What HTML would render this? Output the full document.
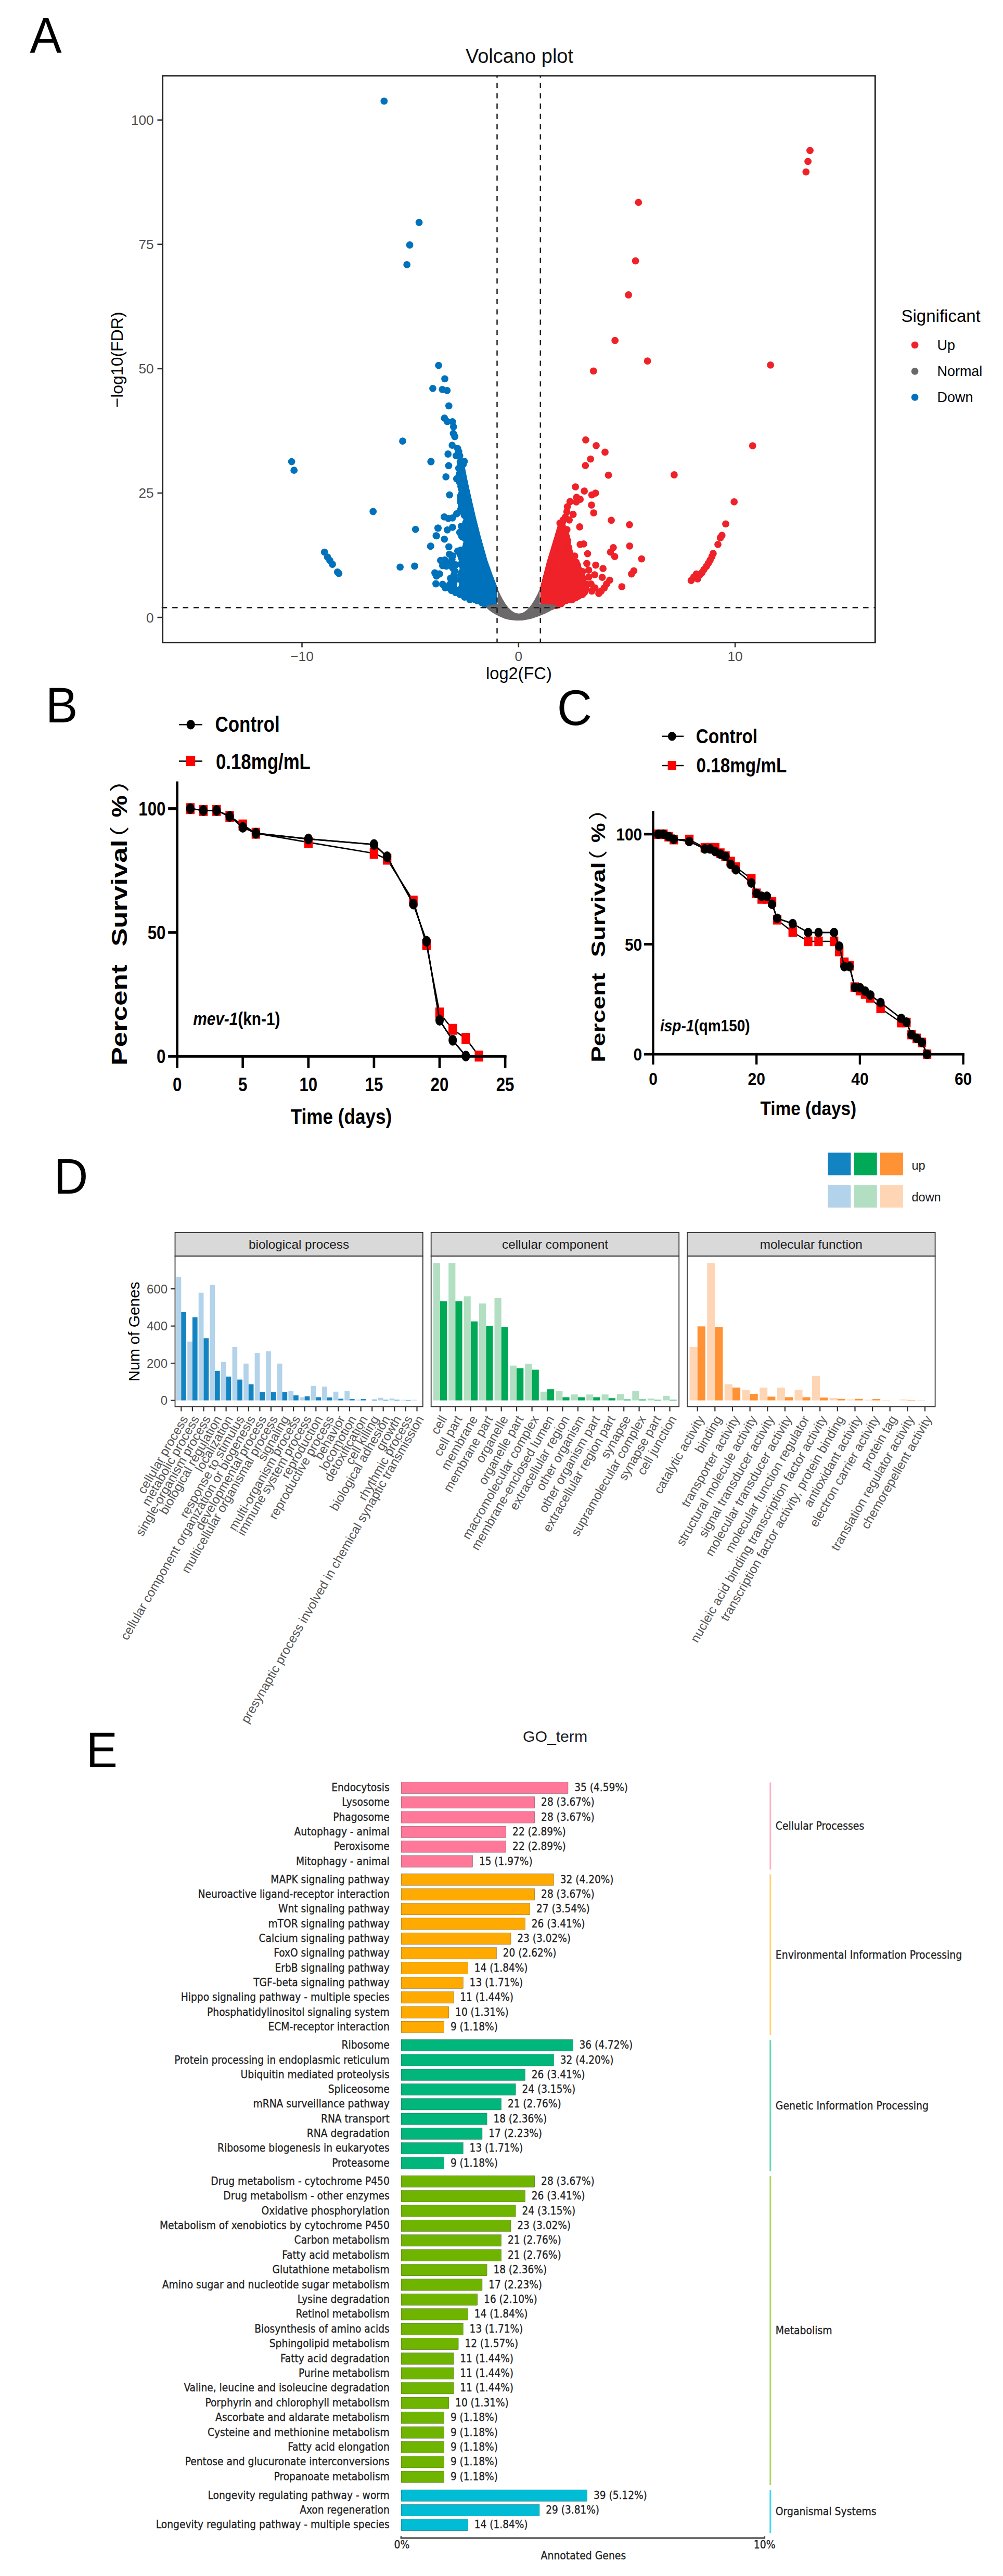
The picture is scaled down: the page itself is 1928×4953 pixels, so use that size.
<!DOCTYPE html>
<html lang="en"><head><meta charset="utf-8"><title>Figure</title>
<style>
html,body{margin:0;padding:0;background:#fff}
svg{display:block}
text{font-family:"Liberation Sans",sans-serif}
.dj text{font-family:"DejaVu Sans Condensed","DejaVu Sans",sans-serif}
</style></head><body>
<svg width="1928" height="4953" viewBox="0 0 1928 4953">
<rect width="1928" height="4953" fill="#fff"/>
<text transform="translate(57.3,100.8) scale(0.96,1)" font-size="95.93" fill="#000">A</text>
<text x="998.5" y="120.8" font-size="38" text-anchor="middle" fill="#111">Volcano plot</text>
<g fill="#0072bc">
<polygon points="891.5,888 892.7,894 893.9,900 895,906 896.2,912 897.4,918 898.6,924 899.9,930 901.2,936 902.5,942 903.9,948 905.2,954 906.6,960 907.9,966 909.3,972 910.7,978 912.1,984 913.5,990 914.9,996 916.4,1002 917.9,1008 919.4,1014 920.9,1020 922.4,1026 923.9,1032 925.6,1038 927.3,1044 929,1050 930.7,1056 932.4,1062 934.1,1068 935.8,1074 937.5,1080 939.6,1086 941.8,1092 943.9,1098 946,1104 948.3,1110 950.6,1116 952.9,1122 955.2,1128 955.5,1129 955.5,1168 940.2,1166 930.2,1161 917.2,1155 903.2,1148 892.2,1141 884.2,1134 888.2,1122 886.2,1106 890.2,1092 886.2,1075 884.2,1060 894.2,1052 896.2,1040 884.2,1024 898.2,1000 886.2,980 885.2,960 886.2,940 882.2,921 886.2,900 892.2,888"/>
<circle cx="892.4" cy="887" r="6.9"/>
<circle cx="890.4" cy="892.7" r="6.9"/>
<circle cx="887" cy="899.6" r="6.9"/>
<circle cx="884.6" cy="905.3" r="6.9"/>
<circle cx="883.5" cy="910.3" r="6.9"/>
<circle cx="882.6" cy="914.5" r="6.9"/>
<circle cx="882.7" cy="922" r="6.9"/>
<circle cx="883.1" cy="926.5" r="6.9"/>
<circle cx="885.9" cy="935" r="6.9"/>
<circle cx="887.1" cy="939.7" r="6.9"/>
<circle cx="888.1" cy="943.6" r="6.9"/>
<circle cx="887.5" cy="949.4" r="6.9"/>
<circle cx="885.1" cy="953.9" r="6.9"/>
<circle cx="885.3" cy="960.9" r="6.9"/>
<circle cx="885.2" cy="965.2" r="6.9"/>
<circle cx="886.8" cy="969.6" r="6.9"/>
<circle cx="886.8" cy="973.7" r="6.9"/>
<circle cx="885.6" cy="979.1" r="6.9"/>
<circle cx="890.4" cy="984.8" r="6.9"/>
<circle cx="892.3" cy="990.3" r="6.9"/>
<circle cx="895.8" cy="994.4" r="6.9"/>
<circle cx="899.8" cy="1000.6" r="6.9"/>
<circle cx="895.3" cy="1005" r="6.9"/>
<circle cx="893.4" cy="1010.7" r="6.9"/>
<circle cx="891.2" cy="1013.8" r="6.9"/>
<circle cx="889.1" cy="1018.1" r="6.9"/>
<circle cx="884.7" cy="1024.8" r="6.9"/>
<circle cx="886.9" cy="1028" r="6.9"/>
<circle cx="889.5" cy="1032.5" r="6.9"/>
<circle cx="894.7" cy="1036.2" r="6.9"/>
<circle cx="898" cy="1039.4" r="6.9"/>
<circle cx="896.5" cy="1046.3" r="6.9"/>
<circle cx="895.1" cy="1051.9" r="6.9"/>
<circle cx="890.9" cy="1057.3" r="6.9"/>
<circle cx="884.8" cy="1060.5" r="6.9"/>
<circle cx="884.2" cy="1065.6" r="6.9"/>
<circle cx="886.7" cy="1071.5" r="6.9"/>
<circle cx="887.9" cy="1074.4" r="6.9"/>
<circle cx="887.9" cy="1081.2" r="6.9"/>
<circle cx="888.1" cy="1086.2" r="6.9"/>
<circle cx="889.9" cy="1090.9" r="6.9"/>
<circle cx="887.6" cy="1099.8" r="6.9"/>
<circle cx="885.8" cy="1105.2" r="6.9"/>
<circle cx="887.2" cy="1112.4" r="6.9"/>
<circle cx="887" cy="1116.5" r="6.9"/>
<circle cx="889" cy="1123.2" r="6.9"/>
<circle cx="887.9" cy="1129.1" r="6.9"/>
<circle cx="884.2" cy="1133.7" r="6.9"/>
<circle cx="888.5" cy="1138.7" r="6.9"/>
<circle cx="894.3" cy="1140" r="6.9"/>
<circle cx="897.4" cy="1143.7" r="6.9"/>
<circle cx="903.1" cy="1148" r="6.9"/>
<circle cx="908.8" cy="1149.6" r="6.9"/>
<circle cx="911.7" cy="1152.4" r="6.9"/>
<circle cx="917.5" cy="1155.2" r="6.9"/>
<circle cx="925.8" cy="1158.6" r="6.9"/>
<circle cx="930.9" cy="1161.4" r="6.9"/>
<circle cx="936.4" cy="1162.2" r="6.9"/>
<circle cx="884.6" cy="888" r="6.9"/>
<circle cx="885.4" cy="892" r="6.9"/>
<circle cx="886.2" cy="896" r="6.9"/>
<circle cx="887" cy="900" r="6.9"/>
<circle cx="887.7" cy="904" r="6.9"/>
<circle cx="888.5" cy="908" r="6.9"/>
<circle cx="889.3" cy="912" r="6.9"/>
<circle cx="890.1" cy="916" r="6.9"/>
<circle cx="890.9" cy="920" r="6.9"/>
<circle cx="891.7" cy="924" r="6.9"/>
<circle cx="892.5" cy="928" r="6.9"/>
<circle cx="893.4" cy="932" r="6.9"/>
<circle cx="894.3" cy="936" r="6.9"/>
<circle cx="895.2" cy="940" r="6.9"/>
<circle cx="896.1" cy="944" r="6.9"/>
<circle cx="897" cy="948" r="6.9"/>
<circle cx="897.9" cy="952" r="6.9"/>
<circle cx="898.8" cy="956" r="6.9"/>
<circle cx="899.7" cy="960" r="6.9"/>
<circle cx="900.6" cy="964" r="6.9"/>
<circle cx="901.5" cy="968" r="6.9"/>
<circle cx="902.4" cy="972" r="6.9"/>
<circle cx="903.4" cy="976" r="6.9"/>
<circle cx="904.3" cy="980" r="6.9"/>
<circle cx="905.2" cy="984" r="6.9"/>
<circle cx="906.1" cy="988" r="6.9"/>
<circle cx="907.1" cy="992" r="6.9"/>
<circle cx="908" cy="996" r="6.9"/>
<circle cx="909" cy="1000" r="6.9"/>
<circle cx="910" cy="1004" r="6.9"/>
<circle cx="911" cy="1008" r="6.9"/>
<circle cx="912" cy="1012" r="6.9"/>
<circle cx="913" cy="1016" r="6.9"/>
<circle cx="914" cy="1020" r="6.9"/>
<circle cx="915" cy="1024" r="6.9"/>
<circle cx="916" cy="1028" r="6.9"/>
<circle cx="917" cy="1032" r="6.9"/>
<circle cx="918.2" cy="1036" r="6.9"/>
<circle cx="919.3" cy="1040" r="6.9"/>
<circle cx="920.4" cy="1044" r="6.9"/>
<circle cx="921.5" cy="1048" r="6.9"/>
<circle cx="922.7" cy="1052" r="6.9"/>
<circle cx="923.8" cy="1056" r="6.9"/>
<circle cx="924.9" cy="1060" r="6.9"/>
<circle cx="926" cy="1064" r="6.9"/>
<circle cx="927.2" cy="1068" r="6.9"/>
<circle cx="928.3" cy="1072" r="6.9"/>
<circle cx="929.4" cy="1076" r="6.9"/>
<circle cx="930.6" cy="1080" r="6.9"/>
<circle cx="932" cy="1084" r="6.9"/>
<circle cx="933.4" cy="1088" r="6.9"/>
<circle cx="934.9" cy="1092" r="6.9"/>
<circle cx="936.3" cy="1096" r="6.9"/>
<circle cx="937.7" cy="1100" r="6.9"/>
<circle cx="939.1" cy="1104" r="6.9"/>
<circle cx="940.6" cy="1108" r="6.9"/>
<circle cx="942.2" cy="1112" r="6.9"/>
<circle cx="943.7" cy="1116" r="6.9"/>
<circle cx="945.3" cy="1120" r="6.9"/>
<circle cx="946.8" cy="1124" r="6.9"/>
<circle cx="948.3" cy="1128" r="6.9"/>
<circle cx="738.3" cy="194.4" r="6.9"/>
<circle cx="805.6" cy="427.7" r="6.9"/>
<circle cx="787.6" cy="471" r="6.9"/>
<circle cx="782.2" cy="508.9" r="6.9"/>
<circle cx="843.1" cy="702.7" r="6.9"/>
<circle cx="855" cy="728.3" r="6.9"/>
<circle cx="831.9" cy="746.8" r="6.9"/>
<circle cx="850.2" cy="748.8" r="6.9"/>
<circle cx="859.4" cy="750.8" r="6.9"/>
<circle cx="862.8" cy="780.3" r="6.9"/>
<circle cx="854.4" cy="804" r="6.9"/>
<circle cx="859.8" cy="810.6" r="6.9"/>
<circle cx="869.8" cy="811" r="6.9"/>
<circle cx="871.8" cy="820.6" r="6.9"/>
<circle cx="871.4" cy="833.5" r="6.9"/>
<circle cx="874.2" cy="839.5" r="6.9"/>
<circle cx="869.2" cy="856.1" r="6.9"/>
<circle cx="879.8" cy="862.5" r="6.9"/>
<circle cx="881.8" cy="868.4" r="6.9"/>
<circle cx="876.8" cy="876.4" r="6.9"/>
<circle cx="883.7" cy="876.4" r="6.9"/>
<circle cx="861.2" cy="873" r="6.9"/>
<circle cx="828.3" cy="887.8" r="6.9"/>
<circle cx="862.4" cy="895.4" r="6.9"/>
<circle cx="886.1" cy="892.4" r="6.9"/>
<circle cx="881.8" cy="900.3" r="6.9"/>
<circle cx="857.2" cy="916.9" r="6.9"/>
<circle cx="877.8" cy="920.7" r="6.9"/>
<circle cx="864.2" cy="951.6" r="6.9"/>
<circle cx="853.8" cy="993.8" r="6.9"/>
<circle cx="861.8" cy="996.8" r="6.9"/>
<circle cx="869.8" cy="995.8" r="6.9"/>
<circle cx="877.8" cy="987.9" r="6.9"/>
<circle cx="841.9" cy="1015.4" r="6.9"/>
<circle cx="859.8" cy="1018.8" r="6.9"/>
<circle cx="869.8" cy="1013.8" r="6.9"/>
<circle cx="886.7" cy="1011.8" r="6.9"/>
<circle cx="838.3" cy="1030.1" r="6.9"/>
<circle cx="854.2" cy="1036.7" r="6.9"/>
<circle cx="827.9" cy="1050.1" r="6.9"/>
<circle cx="862.8" cy="1051.3" r="6.9"/>
<circle cx="863.8" cy="1065.6" r="6.9"/>
<circle cx="846.9" cy="1077.6" r="6.9"/>
<circle cx="854.8" cy="1076.6" r="6.9"/>
<circle cx="850.8" cy="1087.6" r="6.9"/>
<circle cx="857.8" cy="1088.6" r="6.9"/>
<circle cx="835.9" cy="1101.5" r="6.9"/>
<circle cx="844.9" cy="1103.5" r="6.9"/>
<circle cx="838.9" cy="1107.5" r="6.9"/>
<circle cx="837.9" cy="1122.5" r="6.9"/>
<circle cx="850.8" cy="1123.5" r="6.9"/>
<circle cx="855.8" cy="1130.4" r="6.9"/>
<circle cx="864.8" cy="1123.5" r="6.9"/>
<circle cx="871.8" cy="1122.5" r="6.9"/>
<circle cx="867.8" cy="1135.4" r="6.9"/>
<circle cx="875.8" cy="1139.4" r="6.9"/>
<circle cx="872.8" cy="1105.5" r="6.9"/>
<circle cx="869.8" cy="1091.5" r="6.9"/>
<circle cx="868.8" cy="1075.6" r="6.9"/>
<circle cx="879.8" cy="1059.6" r="6.9"/>
<circle cx="885.7" cy="1057.6" r="6.9"/>
<circle cx="883.7" cy="1023.7" r="6.9"/>
<circle cx="887.7" cy="1031.7" r="6.9"/>
<circle cx="560.6" cy="887.6" r="6.9"/>
<circle cx="565.2" cy="904.2" r="6.9"/>
<circle cx="774" cy="848.2" r="6.9"/>
<circle cx="717.2" cy="983.5" r="6.9"/>
<circle cx="798.7" cy="1017.8" r="6.9"/>
<circle cx="623.7" cy="1061.6" r="6.9"/>
<circle cx="629.6" cy="1071.1" r="6.9"/>
<circle cx="634" cy="1077.7" r="6.9"/>
<circle cx="639" cy="1085" r="6.9"/>
<circle cx="648.7" cy="1099.8" r="6.9"/>
<circle cx="651.3" cy="1102.6" r="6.9"/>
<circle cx="769.1" cy="1090.4" r="6.9"/>
<circle cx="797" cy="1088.5" r="6.9"/>
<circle cx="828.5" cy="887.4" r="6.9"/>
<circle cx="842" cy="1015.5" r="6.9"/>
<circle cx="839" cy="1030.4" r="6.9"/>
<circle cx="827.6" cy="1050.4" r="6.9"/>
<circle cx="866" cy="1082" r="6.9"/>
<circle cx="874" cy="1098" r="6.9"/>
<circle cx="866" cy="1112" r="6.9"/>
<circle cx="876" cy="1114" r="6.9"/>
<circle cx="872" cy="1128" r="6.9"/>
<circle cx="880" cy="1137" r="6.9"/>
<circle cx="862" cy="1130" r="6.9"/>
<circle cx="870" cy="1069" r="6.9"/>
<circle cx="876" cy="1086" r="6.9"/>
<circle cx="884" cy="1143" r="6.9"/>
<circle cx="893" cy="1148" r="6.9"/>
<circle cx="903" cy="1153" r="6.9"/>
<circle cx="868" cy="1133" r="6.9"/>
</g>
<g fill="#ee2228">
<polygon points="1075.4,1000 1073.6,1006 1071.8,1012 1070,1018 1068.2,1024 1066.4,1030 1064.6,1036 1062.8,1042 1061,1048 1059.2,1054 1057.4,1060 1055.6,1066 1053.7,1072 1051.9,1078 1050.3,1084 1048.8,1090 1047.2,1096 1045.6,1102 1044,1108 1042.5,1114 1040.9,1120 1039.3,1126 1038.6,1129 1038.6,1169 1055.8,1168 1068.8,1163.5 1089.8,1155.5 1113.8,1146 1124.8,1139 1121.8,1130 1127.8,1122 1111.8,1116 1117.8,1106 1105.8,1100 1113.8,1092 1105.8,1084 1097.8,1069 1093.8,1054 1091.8,1039 1085.8,1018 1075.8,1005"/>
<circle cx="1076.3" cy="1005.8" r="6.9"/>
<circle cx="1079.6" cy="1010.2" r="6.9"/>
<circle cx="1081.4" cy="1013.4" r="6.9"/>
<circle cx="1083.9" cy="1018.4" r="6.9"/>
<circle cx="1085.3" cy="1022" r="6.9"/>
<circle cx="1087.2" cy="1027.5" r="6.9"/>
<circle cx="1089.1" cy="1032.4" r="6.9"/>
<circle cx="1089.6" cy="1038" r="6.9"/>
<circle cx="1090.6" cy="1043.6" r="6.9"/>
<circle cx="1091" cy="1050.1" r="6.9"/>
<circle cx="1093.4" cy="1052.9" r="6.9"/>
<circle cx="1093.7" cy="1058.5" r="6.9"/>
<circle cx="1095.4" cy="1062.9" r="6.9"/>
<circle cx="1098.1" cy="1070.5" r="6.9"/>
<circle cx="1099.7" cy="1074" r="6.9"/>
<circle cx="1101.2" cy="1077.8" r="6.9"/>
<circle cx="1104.6" cy="1083.3" r="6.9"/>
<circle cx="1110.1" cy="1087" r="6.9"/>
<circle cx="1111.7" cy="1093.4" r="6.9"/>
<circle cx="1109.2" cy="1094.9" r="6.9"/>
<circle cx="1105.2" cy="1098.6" r="6.9"/>
<circle cx="1111.2" cy="1104.4" r="6.9"/>
<circle cx="1118.2" cy="1106.6" r="6.9"/>
<circle cx="1113.4" cy="1110.6" r="6.9"/>
<circle cx="1110.1" cy="1116.8" r="6.9"/>
<circle cx="1116.5" cy="1118.8" r="6.9"/>
<circle cx="1121.3" cy="1119.2" r="6.9"/>
<circle cx="1128" cy="1123.5" r="6.9"/>
<circle cx="1125.2" cy="1126.9" r="6.9"/>
<circle cx="1122.1" cy="1130.7" r="6.9"/>
<circle cx="1123.3" cy="1139.1" r="6.9"/>
<circle cx="1118.2" cy="1141.1" r="6.9"/>
<circle cx="1111.7" cy="1145.3" r="6.9"/>
<circle cx="1107.6" cy="1148.5" r="6.9"/>
<circle cx="1104.9" cy="1149.6" r="6.9"/>
<circle cx="1100" cy="1153.2" r="6.9"/>
<circle cx="1095.3" cy="1153.2" r="6.9"/>
<circle cx="1088.3" cy="1154.7" r="6.9"/>
<circle cx="1082.9" cy="1156.6" r="6.9"/>
<circle cx="1079" cy="1160.7" r="6.9"/>
<circle cx="1074.4" cy="1161.4" r="6.9"/>
<circle cx="1068.6" cy="1164.4" r="6.9"/>
<circle cx="1060.4" cy="1166.2" r="6.9"/>
<circle cx="1082.3" cy="1000" r="6.9"/>
<circle cx="1081.1" cy="1004" r="6.9"/>
<circle cx="1079.9" cy="1008" r="6.9"/>
<circle cx="1078.7" cy="1012" r="6.9"/>
<circle cx="1077.5" cy="1016" r="6.9"/>
<circle cx="1076.3" cy="1020" r="6.9"/>
<circle cx="1075.1" cy="1024" r="6.9"/>
<circle cx="1073.9" cy="1028" r="6.9"/>
<circle cx="1072.7" cy="1032" r="6.9"/>
<circle cx="1071.5" cy="1036" r="6.9"/>
<circle cx="1070.3" cy="1040" r="6.9"/>
<circle cx="1069.1" cy="1044" r="6.9"/>
<circle cx="1067.9" cy="1048" r="6.9"/>
<circle cx="1066.7" cy="1052" r="6.9"/>
<circle cx="1065.5" cy="1056" r="6.9"/>
<circle cx="1064.3" cy="1060" r="6.9"/>
<circle cx="1063.1" cy="1064" r="6.9"/>
<circle cx="1061.9" cy="1068" r="6.9"/>
<circle cx="1060.6" cy="1072" r="6.9"/>
<circle cx="1059.4" cy="1076" r="6.9"/>
<circle cx="1058.3" cy="1080" r="6.9"/>
<circle cx="1057.2" cy="1084" r="6.9"/>
<circle cx="1056.2" cy="1088" r="6.9"/>
<circle cx="1055.1" cy="1092" r="6.9"/>
<circle cx="1054.1" cy="1096" r="6.9"/>
<circle cx="1053" cy="1100" r="6.9"/>
<circle cx="1052" cy="1104" r="6.9"/>
<circle cx="1050.9" cy="1108" r="6.9"/>
<circle cx="1049.9" cy="1112" r="6.9"/>
<circle cx="1048.8" cy="1116" r="6.9"/>
<circle cx="1047.8" cy="1120" r="6.9"/>
<circle cx="1046.7" cy="1124" r="6.9"/>
<circle cx="1045.7" cy="1128" r="6.9"/>
<circle cx="1125.9" cy="845.8" r="6.9"/>
<circle cx="1146" cy="856.8" r="6.9"/>
<circle cx="1163" cy="869.4" r="6.9"/>
<circle cx="1135.2" cy="882.6" r="6.9"/>
<circle cx="1125.3" cy="895.1" r="6.9"/>
<circle cx="1169.6" cy="913.7" r="6.9"/>
<circle cx="1295.9" cy="913" r="6.9"/>
<circle cx="1106.2" cy="936.1" r="6.9"/>
<circle cx="1123.2" cy="944.2" r="6.9"/>
<circle cx="1144.8" cy="948.1" r="6.9"/>
<circle cx="1137.6" cy="951.7" r="6.9"/>
<circle cx="1108.3" cy="956.1" r="6.9"/>
<circle cx="1115.2" cy="960" r="6.9"/>
<circle cx="1107.7" cy="965.1" r="6.9"/>
<circle cx="1095.7" cy="964.5" r="6.9"/>
<circle cx="1090.6" cy="974.4" r="6.9"/>
<circle cx="1137" cy="971.1" r="6.9"/>
<circle cx="1141.2" cy="986.1" r="6.9"/>
<circle cx="1101.7" cy="989" r="6.9"/>
<circle cx="1089.7" cy="984" r="6.9"/>
<circle cx="1086.7" cy="994.4" r="6.9"/>
<circle cx="1094.2" cy="999.8" r="6.9"/>
<circle cx="1175" cy="1000.4" r="6.9"/>
<circle cx="1210" cy="1008.8" r="6.9"/>
<circle cx="1114.3" cy="1013" r="6.9"/>
<circle cx="1080.8" cy="1014.8" r="6.9"/>
<circle cx="1089.7" cy="1018.4" r="6.9"/>
<circle cx="1077.8" cy="1027.3" r="6.9"/>
<circle cx="1091.2" cy="1039.3" r="6.9"/>
<circle cx="1115.2" cy="1046.8" r="6.9"/>
<circle cx="1122" cy="1045.9" r="6.9"/>
<circle cx="1178.9" cy="1052.8" r="6.9"/>
<circle cx="1210.3" cy="1049.8" r="6.9"/>
<circle cx="1173.5" cy="1061.7" r="6.9"/>
<circle cx="1181.6" cy="1070.1" r="6.9"/>
<circle cx="1129.5" cy="1064.7" r="6.9"/>
<circle cx="1233.3" cy="1074.6" r="6.9"/>
<circle cx="1128" cy="1083.3" r="6.9"/>
<circle cx="1145.1" cy="1086.6" r="6.9"/>
<circle cx="1159.1" cy="1093.1" r="6.9"/>
<circle cx="1218.4" cy="1097.6" r="6.9"/>
<circle cx="1213.9" cy="1103.6" r="6.9"/>
<circle cx="1143" cy="1105.1" r="6.9"/>
<circle cx="1157.6" cy="1110.2" r="6.9"/>
<circle cx="1172" cy="1115.6" r="6.9"/>
<circle cx="1131.6" cy="1096.1" r="6.9"/>
<circle cx="1131.6" cy="1109.6" r="6.9"/>
<circle cx="1119.6" cy="1112.6" r="6.9"/>
<circle cx="1166" cy="1123" r="6.9"/>
<circle cx="1136.1" cy="1123" r="6.9"/>
<circle cx="1143.6" cy="1130.5" r="6.9"/>
<circle cx="1161.5" cy="1130.5" r="6.9"/>
<circle cx="1155.5" cy="1136.5" r="6.9"/>
<circle cx="1151" cy="1141" r="6.9"/>
<circle cx="1195.3" cy="1128.1" r="6.9"/>
<circle cx="1137.6" cy="1136.5" r="6.9"/>
<circle cx="1125.6" cy="1132" r="6.9"/>
<circle cx="1119.6" cy="1143" r="6.9"/>
<circle cx="1112.2" cy="1146" r="6.9"/>
<circle cx="1101.7" cy="1099" r="6.9"/>
<circle cx="1104.7" cy="1069.2" r="6.9"/>
<circle cx="1107.7" cy="1081.2" r="6.9"/>
<circle cx="1119.6" cy="1099" r="6.9"/>
<circle cx="1182.2" cy="654.6" r="6.9"/>
<circle cx="1244.6" cy="694.2" r="6.9"/>
<circle cx="1140.8" cy="713.4" r="6.9"/>
<circle cx="1481.1" cy="701.9" r="6.9"/>
<circle cx="1446.7" cy="857.1" r="6.9"/>
<circle cx="1411.2" cy="964.9" r="6.9"/>
<circle cx="1395" cy="1007.4" r="6.9"/>
<circle cx="1387.7" cy="1029.4" r="6.9"/>
<circle cx="1384.6" cy="1034.2" r="6.9"/>
<circle cx="1380" cy="1046.8" r="6.9"/>
<circle cx="1370.9" cy="1064.1" r="6.9"/>
<circle cx="1368.5" cy="1070" r="6.9"/>
<circle cx="1364.9" cy="1077.2" r="6.9"/>
<circle cx="1361.4" cy="1083.2" r="6.9"/>
<circle cx="1357.8" cy="1089.2" r="6.9"/>
<circle cx="1353" cy="1095.2" r="6.9"/>
<circle cx="1349.4" cy="1101.2" r="6.9"/>
<circle cx="1344.6" cy="1106" r="6.9"/>
<circle cx="1338.6" cy="1103.6" r="6.9"/>
<circle cx="1341" cy="1113.1" r="6.9"/>
<circle cx="1333.8" cy="1109.5" r="6.9"/>
<circle cx="1328.6" cy="1116.2" r="6.9"/>
<circle cx="1557" cy="289.3" r="6.9"/>
<circle cx="1553.1" cy="310.4" r="6.9"/>
<circle cx="1549.3" cy="330.6" r="6.9"/>
<circle cx="1227.3" cy="389.2" r="6.9"/>
<circle cx="1221.6" cy="501.7" r="6.9"/>
<circle cx="1208.1" cy="567" r="6.9"/>
</g>
<path fill="#6b6969" d="M956.8,1132.8 Q997.2,1226.6 1037.6,1132.8 L1037.6,1161.5 L1064,1162.5 Q1071,1164 1068,1168.5 Q1050,1181 1022,1189.5 Q996,1197 970,1189.5 Q946,1180 936.5,1170 Q933,1164 940,1163.5 L956.8,1161.5 Z"/>
<g stroke="#222" stroke-width="2.5" fill="none">
<path stroke-dasharray="9.9 9.884" stroke-dashoffset="6.04" d="M955.5,145.7V1235"/><path stroke-dasharray="9.9 9.884" stroke-dashoffset="6.04" d="M1038.8,145.7V1235"/><path stroke-dasharray="10.5 9.93" d="M310.7,1168.3H1682"/>
</g>
<rect x="312.6" y="145.7" width="1369.7" height="1089.7" fill="none" stroke="#222" stroke-width="2.9"/>
<g stroke="#333" stroke-width="2.6">
<path d="M302.5,1187.1H311.5"/>
<path d="M302.5,948H311.5"/>
<path d="M302.5,708.9H311.5"/>
<path d="M302.5,469.8H311.5"/>
<path d="M302.5,230.7H311.5"/>
<path d="M580.5,1236V1244.5"/>
<path d="M996.8,1236V1244.5"/>
<path d="M1413.1,1236V1244.5"/>
</g>
<g font-size="26.2" fill="#4d4d4d">
<text x="295.6" y="1196.5" text-anchor="end">0</text>
<text x="295.6" y="957.4" text-anchor="end">25</text>
<text x="295.6" y="718.3" text-anchor="end">50</text>
<text x="295.6" y="479.2" text-anchor="end">75</text>
<text x="295.6" y="240.1" text-anchor="end">100</text>
<text x="580.5" y="1270.7" text-anchor="middle">−10</text>
<text x="996.8" y="1270.7" text-anchor="middle">0</text>
<text x="1413.1" y="1270.7" text-anchor="middle">10</text>
</g>
<text x="997.4" y="1305.5" font-size="32.6" text-anchor="middle" fill="#000">log2(FC)</text>
<text transform="translate(236.3,691.5) rotate(-90)" font-size="32" text-anchor="middle" fill="#000">−log10(FDR)</text>
<text x="1732.5" y="619.3" font-size="33" fill="#000">Significant</text>
<circle cx="1758.6" cy="663.4" r="6.9" fill="#ee2228"/>
<text x="1801.6" y="672.5" font-size="26.9" fill="#000">Up</text>
<circle cx="1758.6" cy="713.8" r="6.9" fill="#6b6969"/>
<text x="1801.6" y="722.9" font-size="26.9" fill="#000">Normal</text>
<circle cx="1758.6" cy="763.8" r="6.9" fill="#0072bc"/>
<text x="1801.6" y="772.9" font-size="26.9" fill="#000">Down</text>
<text transform="translate(87.87,1389.3) scale(0.96,1)" font-size="96.37" fill="#000">B</text>
<polyline fill="none" stroke="#000" stroke-width="2.6" stroke-linejoin="round" points="365.8,1554.8 391,1558.3 416.3,1558.3 441.5,1569.7 466.7,1586.2 491.9,1602.1 592.8,1619.6 718.9,1640.7 744.1,1652 794.6,1732.5 819.8,1816.2 845,1947.8 870.2,1979.2 895.4,1996.6 920.7,2030.5"/>
<polyline fill="none" stroke="#000" stroke-width="2.6" stroke-linejoin="round" points="365.8,1554.8 391,1558.3 416.3,1558.3 441.5,1569.7 466.7,1590.7 491.9,1602.1 592.8,1613.1 718.9,1623.7 744.1,1647.3 794.6,1738.3 819.8,1809.7 845,1961.7 870.2,2000.1 895.4,2030.5"/>
<g fill="#f00">
<rect x="357.6" y="1544.3" width="16.4" height="21"/>
<rect x="382.8" y="1547.8" width="16.4" height="21"/>
<rect x="408.1" y="1547.8" width="16.4" height="21"/>
<rect x="433.3" y="1559.2" width="16.4" height="21"/>
<rect x="458.5" y="1575.7" width="16.4" height="21"/>
<rect x="483.7" y="1591.6" width="16.4" height="21"/>
<rect x="584.6" y="1609.1" width="16.4" height="21"/>
<rect x="710.7" y="1630.2" width="16.4" height="21"/>
<rect x="735.9" y="1641.5" width="16.4" height="21"/>
<rect x="786.4" y="1722" width="16.4" height="21"/>
<rect x="811.6" y="1805.7" width="16.4" height="21"/>
<rect x="836.8" y="1937.3" width="16.4" height="21"/>
<rect x="862" y="1968.7" width="16.4" height="21"/>
<rect x="887.2" y="1986.1" width="16.4" height="21"/>
<rect x="912.5" y="2020" width="16.4" height="21"/>
</g>
<polyline fill="none" stroke="#000" stroke-width="2.6" stroke-linejoin="round" points="365.8,1554.8 391,1558.3 416.3,1558.3 441.5,1569.7 466.7,1590.7 491.9,1602.1 592.8,1613.1 718.9,1623.7 744.1,1647.3 794.6,1738.3 819.8,1809.7 845,1961.7 870.2,2000.1 895.4,2030.5"/>
<g fill="#000">
<ellipse cx="365.8" cy="1554.8" rx="8.1" ry="10.3"/>
<ellipse cx="391" cy="1558.3" rx="8.1" ry="10.3"/>
<ellipse cx="416.3" cy="1558.3" rx="8.1" ry="10.3"/>
<ellipse cx="441.5" cy="1569.7" rx="8.1" ry="10.3"/>
<ellipse cx="466.7" cy="1590.7" rx="8.1" ry="10.3"/>
<ellipse cx="491.9" cy="1602.1" rx="8.1" ry="10.3"/>
<ellipse cx="592.8" cy="1613.1" rx="8.1" ry="10.3"/>
<ellipse cx="718.9" cy="1623.7" rx="8.1" ry="10.3"/>
<ellipse cx="744.1" cy="1647.3" rx="8.1" ry="10.3"/>
<ellipse cx="794.6" cy="1738.3" rx="8.1" ry="10.3"/>
<ellipse cx="819.8" cy="1809.7" rx="8.1" ry="10.3"/>
<ellipse cx="845" cy="1961.7" rx="8.1" ry="10.3"/>
<ellipse cx="870.2" cy="2000.1" rx="8.1" ry="10.3"/>
<ellipse cx="895.4" cy="2030.5" rx="8.1" ry="10.3"/>
</g>
<g stroke="#000" fill="none">
<path stroke-width="4.7" d="M340.6,1502.4V2053"/>
<path stroke-width="5.4" d="M323.2,2031H973.6"/>
<path stroke-width="5.4" d="M323.2,1792.9H340.6"/>
<path stroke-width="5.4" d="M323.2,1554.8H340.6"/>
<path stroke-width="4.7" d="M466.7,2031V2053"/>
<path stroke-width="4.7" d="M592.8,2031V2053"/>
<path stroke-width="4.7" d="M718.9,2031V2053"/>
<path stroke-width="4.7" d="M845,2031V2053"/>
<path stroke-width="4.7" d="M971.1,2031V2053"/>
</g>
<text x="318.5" y="2044.4" font-size="37" text-anchor="end" textLength="17.4" lengthAdjust="spacingAndGlyphs" font-weight="bold">0</text>
<text x="318.5" y="1806.3" font-size="37" text-anchor="end" textLength="34.8" lengthAdjust="spacingAndGlyphs" font-weight="bold">50</text>
<text x="318.5" y="1568.2" font-size="37" text-anchor="end" textLength="52.2" lengthAdjust="spacingAndGlyphs" font-weight="bold">100</text>
<text x="340.6" y="2097.6" font-size="37" text-anchor="middle" textLength="17.4" lengthAdjust="spacingAndGlyphs" font-weight="bold">0</text>
<text x="466.7" y="2097.6" font-size="37" text-anchor="middle" textLength="17.4" lengthAdjust="spacingAndGlyphs" font-weight="bold">5</text>
<text x="592.8" y="2097.6" font-size="37" text-anchor="middle" textLength="34.8" lengthAdjust="spacingAndGlyphs" font-weight="bold">10</text>
<text x="718.9" y="2097.6" font-size="37" text-anchor="middle" textLength="34.8" lengthAdjust="spacingAndGlyphs" font-weight="bold">15</text>
<text x="845" y="2097.6" font-size="37" text-anchor="middle" textLength="34.8" lengthAdjust="spacingAndGlyphs" font-weight="bold">20</text>
<text x="971.1" y="2097.6" font-size="37" text-anchor="middle" textLength="34.8" lengthAdjust="spacingAndGlyphs" font-weight="bold">25</text>
<path stroke="#000" stroke-width="2.6" d="M344,1393.2H389"/><ellipse cx="366.6" cy="1393.2" rx="8.1" ry="9.2"/>
<path stroke="#000" stroke-width="2.6" d="M344,1463.5H389"/><rect x="358" y="1454" width="17.2" height="19" fill="#f00"/>
<text x="413.6" y="1407.2" font-size="43" textLength="124" lengthAdjust="spacingAndGlyphs" font-weight="bold">Control</text>
<text x="414.9" y="1478.5" font-size="43" textLength="182" lengthAdjust="spacingAndGlyphs" font-weight="bold">0.18mg/mL</text>
<text x="558.8" y="2160.8" font-size="40" textLength="194.4" lengthAdjust="spacingAndGlyphs" font-weight="bold">Time (days)</text>
<text x="371.2" y="1970.7" font-size="34.4" font-weight="bold" textLength="167.3" lengthAdjust="spacingAndGlyphs"><tspan font-style="italic">mev-1</tspan>(kn-1)</text>
<text transform="translate(243.6,2048.5) rotate(-90)" font-size="42" textLength="194" lengthAdjust="spacingAndGlyphs" font-weight="bold">Percent</text>
<text transform="translate(243.6,1819.8) rotate(-90)" font-size="42" textLength="205.1" lengthAdjust="spacingAndGlyphs" font-weight="bold">Survival</text>
<text transform="translate(243.6,1571.4) rotate(-90)" font-size="42" textLength="42.2" lengthAdjust="spacingAndGlyphs" font-weight="bold">%</text>
<text transform="translate(242.8,1637.7) rotate(-90) scale(1.3,1)" font-size="37.7" style="font-family:'Liberation Sans','Noto Sans CJK SC',sans-serif">（</text>
<text transform="translate(242.8,1523.2) rotate(-90) scale(1.3,1)" font-size="37.7" style="font-family:'Liberation Sans','Noto Sans CJK SC',sans-serif">）</text>
<text transform="translate(1070.81,1394.04) scale(0.96,1)" font-size="97.05" fill="#000">C</text>
<polyline fill="none" stroke="#000" stroke-width="2.4" stroke-linejoin="round" points="1265.4,1604 1275.4,1604 1285.3,1608.7 1295.2,1614.3 1325,1614.1 1354.8,1630 1364.8,1630 1374.7,1630 1384.7,1640.4 1394.6,1646 1404.5,1656.5 1414.5,1667.3 1444.3,1689.7 1454.2,1717.6 1464.1,1728.5 1474.1,1728.5 1484,1734.3 1493.9,1768.4 1523.7,1792.2 1553.5,1810 1573.4,1810 1603.2,1810 1613.2,1829.5 1623.1,1850.3 1633,1856.8 1643,1898 1652.9,1904.7 1662.8,1911.4 1672.8,1918.6 1692.6,1938.7 1732.4,1966.2 1742.3,1966 1752.2,1989.2 1762.2,1996.6 1772.1,2004.3 1782.1,2027"/>
<polyline fill="none" stroke="#000" stroke-width="2.4" stroke-linejoin="round" points="1265.4,1603.9 1275.4,1603.9 1285.3,1608.5 1295.2,1613.5 1325,1617.9 1354.8,1632.2 1364.8,1632.2 1374.7,1637.2 1384.7,1642.2 1394.6,1646.8 1404.5,1662 1414.5,1672.3 1444.3,1697.8 1454.2,1717.8 1464.1,1723.2 1474.1,1723.2 1484,1738.7 1493.9,1765.6 1523.7,1776 1553.5,1793 1573.4,1793 1603.2,1793 1613.2,1819.2 1623.1,1858.6 1633,1858.6 1643,1898.5 1652.9,1899 1662.8,1905.5 1672.8,1913.1 1692.6,1927.7 1732.4,1958.1 1742.3,1965.3 1752.2,1989.2 1762.2,1996.4 1772.1,2004.3 1782.1,2027"/>
<g fill="#f00">
<rect x="1257.3" y="1594.8" width="16.3" height="18.4"/>
<rect x="1267.2" y="1594.8" width="16.3" height="18.4"/>
<rect x="1277.2" y="1599.5" width="16.3" height="18.4"/>
<rect x="1287.1" y="1605.1" width="16.3" height="18.4"/>
<rect x="1316.9" y="1604.9" width="16.3" height="18.4"/>
<rect x="1346.7" y="1620.8" width="16.3" height="18.4"/>
<rect x="1356.6" y="1620.8" width="16.3" height="18.4"/>
<rect x="1366.6" y="1620.8" width="16.3" height="18.4"/>
<rect x="1376.5" y="1631.2" width="16.3" height="18.4"/>
<rect x="1386.4" y="1636.8" width="16.3" height="18.4"/>
<rect x="1396.4" y="1647.3" width="16.3" height="18.4"/>
<rect x="1406.3" y="1658.1" width="16.3" height="18.4"/>
<rect x="1436.1" y="1680.5" width="16.3" height="18.4"/>
<rect x="1446" y="1708.4" width="16.3" height="18.4"/>
<rect x="1456" y="1719.3" width="16.3" height="18.4"/>
<rect x="1465.9" y="1719.3" width="16.3" height="18.4"/>
<rect x="1475.9" y="1725.1" width="16.3" height="18.4"/>
<rect x="1485.8" y="1759.2" width="16.3" height="18.4"/>
<rect x="1515.6" y="1783" width="16.3" height="18.4"/>
<rect x="1545.4" y="1800.8" width="16.3" height="18.4"/>
<rect x="1565.3" y="1800.8" width="16.3" height="18.4"/>
<rect x="1595.1" y="1800.8" width="16.3" height="18.4"/>
<rect x="1605" y="1820.3" width="16.3" height="18.4"/>
<rect x="1614.9" y="1841.1" width="16.3" height="18.4"/>
<rect x="1624.9" y="1847.6" width="16.3" height="18.4"/>
<rect x="1634.8" y="1888.8" width="16.3" height="18.4"/>
<rect x="1644.8" y="1895.5" width="16.3" height="18.4"/>
<rect x="1654.7" y="1902.2" width="16.3" height="18.4"/>
<rect x="1664.6" y="1909.4" width="16.3" height="18.4"/>
<rect x="1684.5" y="1929.5" width="16.3" height="18.4"/>
<rect x="1724.2" y="1957" width="16.3" height="18.4"/>
<rect x="1734.2" y="1956.8" width="16.3" height="18.4"/>
<rect x="1744.1" y="1980" width="16.3" height="18.4"/>
<rect x="1754" y="1987.4" width="16.3" height="18.4"/>
<rect x="1764" y="1995.1" width="16.3" height="18.4"/>
<rect x="1773.9" y="2017.8" width="16.3" height="18.4"/>
</g>
<polyline fill="none" stroke="#000" stroke-width="2.4" stroke-linejoin="round" points="1265.4,1603.9 1275.4,1603.9 1285.3,1608.5 1295.2,1613.5 1325,1617.9 1354.8,1632.2 1364.8,1632.2 1374.7,1637.2 1384.7,1642.2 1394.6,1646.8 1404.5,1662 1414.5,1672.3 1444.3,1697.8 1454.2,1717.8 1464.1,1723.2 1474.1,1723.2 1484,1738.7 1493.9,1765.6 1523.7,1776 1553.5,1793 1573.4,1793 1603.2,1793 1613.2,1819.2 1623.1,1858.6 1633,1858.6 1643,1898.5 1652.9,1899 1662.8,1905.5 1672.8,1913.1 1692.6,1927.7 1732.4,1958.1 1742.3,1965.3 1752.2,1989.2 1762.2,1996.4 1772.1,2004.3 1782.1,2027"/>
<g fill="#000">
<ellipse cx="1265.4" cy="1603.9" rx="8" ry="9.2"/>
<ellipse cx="1275.4" cy="1603.9" rx="8" ry="9.2"/>
<ellipse cx="1285.3" cy="1608.5" rx="8" ry="9.2"/>
<ellipse cx="1295.2" cy="1613.5" rx="8" ry="9.2"/>
<ellipse cx="1325" cy="1617.9" rx="8" ry="9.2"/>
<ellipse cx="1354.8" cy="1632.2" rx="8" ry="9.2"/>
<ellipse cx="1364.8" cy="1632.2" rx="8" ry="9.2"/>
<ellipse cx="1374.7" cy="1637.2" rx="8" ry="9.2"/>
<ellipse cx="1384.7" cy="1642.2" rx="8" ry="9.2"/>
<ellipse cx="1394.6" cy="1646.8" rx="8" ry="9.2"/>
<ellipse cx="1404.5" cy="1662" rx="8" ry="9.2"/>
<ellipse cx="1414.5" cy="1672.3" rx="8" ry="9.2"/>
<ellipse cx="1444.3" cy="1697.8" rx="8" ry="9.2"/>
<ellipse cx="1454.2" cy="1717.8" rx="8" ry="9.2"/>
<ellipse cx="1464.1" cy="1723.2" rx="8" ry="9.2"/>
<ellipse cx="1474.1" cy="1723.2" rx="8" ry="9.2"/>
<ellipse cx="1484" cy="1738.7" rx="8" ry="9.2"/>
<ellipse cx="1493.9" cy="1765.6" rx="8" ry="9.2"/>
<ellipse cx="1523.7" cy="1776" rx="8" ry="9.2"/>
<ellipse cx="1553.5" cy="1793" rx="8" ry="9.2"/>
<ellipse cx="1573.4" cy="1793" rx="8" ry="9.2"/>
<ellipse cx="1603.2" cy="1793" rx="8" ry="9.2"/>
<ellipse cx="1613.2" cy="1819.2" rx="8" ry="9.2"/>
<ellipse cx="1623.1" cy="1858.6" rx="8" ry="9.2"/>
<ellipse cx="1633" cy="1858.6" rx="8" ry="9.2"/>
<ellipse cx="1643" cy="1898.5" rx="8" ry="9.2"/>
<ellipse cx="1652.9" cy="1899" rx="8" ry="9.2"/>
<ellipse cx="1662.8" cy="1905.5" rx="8" ry="9.2"/>
<ellipse cx="1672.8" cy="1913.1" rx="8" ry="9.2"/>
<ellipse cx="1692.6" cy="1927.7" rx="8" ry="9.2"/>
<ellipse cx="1732.4" cy="1958.1" rx="8" ry="9.2"/>
<ellipse cx="1742.3" cy="1965.3" rx="8" ry="9.2"/>
<ellipse cx="1752.2" cy="1989.2" rx="8" ry="9.2"/>
<ellipse cx="1762.2" cy="1996.4" rx="8" ry="9.2"/>
<ellipse cx="1772.1" cy="2004.3" rx="8" ry="9.2"/>
<ellipse cx="1782.1" cy="2027" rx="8" ry="9.2"/>
</g>
<g stroke="#000" fill="none">
<path stroke-width="4.3" d="M1255.5,1559.1V2046.7"/>
<path stroke-width="4.9" d="M1237.9,2027.1H1853.8"/>
<path stroke-width="4.9" d="M1237.9,1815.5H1255.5"/>
<path stroke-width="4.9" d="M1237.9,1603.9H1255.5"/>
<path stroke-width="4.3" d="M1454.2,2027.1V2046.7"/>
<path stroke-width="4.3" d="M1652.9,2027.1V2046.7"/>
<path stroke-width="4.3" d="M1851.6,2027.1V2046.7"/>
</g>
<text x="1234.3" y="2039.3" font-size="33.5" text-anchor="end" textLength="16.7" lengthAdjust="spacingAndGlyphs" font-weight="bold">0</text>
<text x="1234.3" y="1827.7" font-size="33.5" text-anchor="end" textLength="33.4" lengthAdjust="spacingAndGlyphs" font-weight="bold">50</text>
<text x="1234.3" y="1616.1" font-size="33.5" text-anchor="end" textLength="50.1" lengthAdjust="spacingAndGlyphs" font-weight="bold">100</text>
<text x="1255.5" y="2086.4" font-size="33.5" text-anchor="middle" textLength="16.7" lengthAdjust="spacingAndGlyphs" font-weight="bold">0</text>
<text x="1454.2" y="2086.4" font-size="33.5" text-anchor="middle" textLength="33.4" lengthAdjust="spacingAndGlyphs" font-weight="bold">20</text>
<text x="1652.9" y="2086.4" font-size="33.5" text-anchor="middle" textLength="33.4" lengthAdjust="spacingAndGlyphs" font-weight="bold">40</text>
<text x="1851.6" y="2086.4" font-size="33.5" text-anchor="middle" textLength="33.4" lengthAdjust="spacingAndGlyphs" font-weight="bold">60</text>
<path stroke="#000" stroke-width="2.4" d="M1272,1415.7H1314.2"/><ellipse cx="1291.8" cy="1415.7" rx="8" ry="8.6"/>
<path stroke="#000" stroke-width="2.4" d="M1272,1472H1314.2"/><rect x="1283.6" y="1463" width="16.4" height="18" fill="#f00"/>
<text x="1337.8" y="1428.6" font-size="38.5" textLength="118.3" lengthAdjust="spacingAndGlyphs" font-weight="bold">Control</text>
<text x="1338.4" y="1485.4" font-size="38.5" textLength="174" lengthAdjust="spacingAndGlyphs" font-weight="bold">0.18mg/mL</text>
<text x="1461.6" y="2143.5" font-size="36.7" textLength="184.6" lengthAdjust="spacingAndGlyphs" font-weight="bold">Time (days)</text>
<text x="1269" y="1982.6" font-size="31.5" font-weight="bold" textLength="172.6" lengthAdjust="spacingAndGlyphs"><tspan font-style="italic">isp-1</tspan>(qm150)</text>
<text transform="translate(1163,2042.8) rotate(-90)" font-size="37.2" textLength="172.1" lengthAdjust="spacingAndGlyphs" font-weight="bold">Percent</text>
<text transform="translate(1163,1840.2) rotate(-90)" font-size="37.2" textLength="182.7" lengthAdjust="spacingAndGlyphs" font-weight="bold">Survival</text>
<text transform="translate(1163,1620.1) rotate(-90)" font-size="37.6" textLength="37.6" lengthAdjust="spacingAndGlyphs" font-weight="bold">%</text>
<text transform="translate(1162.7,1679.4) rotate(-90) scale(1.24,1)" font-size="35.9" style="font-family:'Liberation Sans','Noto Sans CJK SC',sans-serif">（</text>
<text transform="translate(1162.7,1576.9) rotate(-90) scale(1.24,1)" font-size="35.9" style="font-family:'Liberation Sans','Noto Sans CJK SC',sans-serif">）</text>
<text transform="translate(103.52,2295) scale(0.95,1)" font-size="95.93" fill="#000">D</text>
<rect x="1591.4" y="2216.3" width="44" height="43.4" fill="#1483c1"/>
<rect x="1591.4" y="2278.6" width="44" height="43.2" fill="#b3d3ea"/>
<rect x="1641.7" y="2216.3" width="44" height="43.4" fill="#00a956"/>
<rect x="1641.7" y="2278.6" width="44" height="43.2" fill="#b2dfc2"/>
<rect x="1691.9" y="2216.3" width="44" height="43.4" fill="#ff9234"/>
<rect x="1691.9" y="2278.6" width="44" height="43.2" fill="#ffd6b5"/>
<text x="1752.5" y="2248.5" font-size="23.5" fill="#1a1a1a">up</text>
<text x="1752.5" y="2309.8" font-size="23.5" fill="#1a1a1a">down</text>
<g fill="#b3d3ea">
<rect x="338.6" y="2454.9" width="9.7" height="237.7"/>
<rect x="360.2" y="2579.6" width="9.7" height="113"/>
<rect x="381.7" y="2485.6" width="9.7" height="207"/>
<rect x="403.3" y="2470.6" width="9.7" height="222"/>
<rect x="424.9" y="2618.6" width="9.7" height="74"/>
<rect x="446.5" y="2590" width="9.7" height="102.6"/>
<rect x="468.1" y="2621.8" width="9.7" height="70.8"/>
<rect x="489.6" y="2601.4" width="9.7" height="91.2"/>
<rect x="511.2" y="2598.2" width="9.7" height="94.4"/>
<rect x="532.8" y="2621.8" width="9.7" height="70.8"/>
<rect x="554.4" y="2674" width="9.7" height="18.6"/>
<rect x="576" y="2686.5" width="9.7" height="6.1"/>
<rect x="597.5" y="2664.7" width="9.7" height="27.9"/>
<rect x="619.1" y="2666.1" width="9.7" height="26.5"/>
<rect x="640.7" y="2675.8" width="9.7" height="16.8"/>
<rect x="662.3" y="2674" width="9.7" height="18.6"/>
<rect x="683.9" y="2691.2" width="9.7" height="1.4"/>
<rect x="727" y="2687.6" width="9.7" height="5"/>
<rect x="748.6" y="2689" width="9.7" height="3.6"/>
<rect x="770.2" y="2691.5" width="9.7" height="1.1"/>
<rect x="791.8" y="2691.5" width="9.7" height="1.1"/>
</g><g fill="#1483c1">
<rect x="348.3" y="2522.8" width="9.7" height="169.8"/>
<rect x="369.9" y="2532.8" width="9.7" height="159.8"/>
<rect x="391.5" y="2573.2" width="9.7" height="119.4"/>
<rect x="413" y="2635.8" width="9.7" height="56.8"/>
<rect x="434.6" y="2646.8" width="9.7" height="45.8"/>
<rect x="456.2" y="2652.6" width="9.7" height="40"/>
<rect x="477.8" y="2661.5" width="9.7" height="31.1"/>
<rect x="499.4" y="2676.2" width="9.7" height="16.4"/>
<rect x="520.9" y="2676.5" width="9.7" height="16.1"/>
<rect x="542.5" y="2676.5" width="9.7" height="16.1"/>
<rect x="564.1" y="2682.9" width="9.7" height="9.7"/>
<rect x="585.7" y="2684.7" width="9.7" height="7.9"/>
<rect x="607.3" y="2686.5" width="9.7" height="6.1"/>
<rect x="628.8" y="2686.9" width="9.7" height="5.7"/>
<rect x="650.4" y="2689.4" width="9.7" height="3.2"/>
<rect x="672" y="2690.1" width="9.7" height="2.5"/>
<rect x="693.6" y="2690.1" width="9.7" height="2.5"/>
<rect x="715.2" y="2691.2" width="9.7" height="1.4"/>
<rect x="736.7" y="2691.5" width="9.7" height="1.1"/>
<rect x="758.3" y="2691.5" width="9.7" height="1.1"/>
<rect x="779.9" y="2691.9" width="9.7" height="0.7"/>
</g>
<rect x="336.5" y="2369.8" width="476.3" height="45.4" fill="#d9d9d9" stroke="#333" stroke-width="1.8"/>
<rect x="336.5" y="2415.2" width="476.3" height="289.4" fill="none" stroke="#333" stroke-width="1.8"/>
<text x="574.6" y="2401.2" font-size="24.3" text-anchor="middle" fill="#1a1a1a">biological process</text>
<path d="M348.3,2704.6V2713.4M369.9,2704.6V2713.4M391.5,2704.6V2713.4M413,2704.6V2713.4M434.6,2704.6V2713.4M456.2,2704.6V2713.4M477.8,2704.6V2713.4M499.4,2704.6V2713.4M520.9,2704.6V2713.4M542.5,2704.6V2713.4M564.1,2704.6V2713.4M585.7,2704.6V2713.4M607.3,2704.6V2713.4M628.8,2704.6V2713.4M650.4,2704.6V2713.4M672,2704.6V2713.4M693.6,2704.6V2713.4M715.2,2704.6V2713.4M736.7,2704.6V2713.4M758.3,2704.6V2713.4M779.9,2704.6V2713.4M801.5,2704.6V2713.4" stroke="#333" stroke-width="2.2" fill="none"/>
<g font-size="24.25" fill="#555" text-anchor="end">
<text transform="translate(362.3,2728) rotate(-60)">cellular process</text>
<text transform="translate(383.9,2728) rotate(-60)">metabolic process</text>
<text transform="translate(405.5,2728) rotate(-60)">single-organism process</text>
<text transform="translate(427,2728) rotate(-60)">biological regulation</text>
<text transform="translate(448.6,2728) rotate(-60)">localization</text>
<text transform="translate(470.2,2728) rotate(-60)">response to stimulus</text>
<text transform="translate(491.8,2728) rotate(-60)">cellular component organization or biogenesis</text>
<text transform="translate(513.4,2728) rotate(-60)">developmental process</text>
<text transform="translate(534.9,2728) rotate(-60)">multicellular organismal process</text>
<text transform="translate(556.5,2728) rotate(-60)">signaling</text>
<text transform="translate(578.1,2728) rotate(-60)">multi-organism process</text>
<text transform="translate(599.7,2728) rotate(-60)">immune system process</text>
<text transform="translate(621.3,2728) rotate(-60)">reproduction</text>
<text transform="translate(642.8,2728) rotate(-60)">reproductive process</text>
<text transform="translate(664.4,2728) rotate(-60)">behavior</text>
<text transform="translate(686,2728) rotate(-60)">locomotion</text>
<text transform="translate(707.6,2728) rotate(-60)">detoxification</text>
<text transform="translate(729.2,2728) rotate(-60)">cell killing</text>
<text transform="translate(750.7,2728) rotate(-60)">biological adhesion</text>
<text transform="translate(772.3,2728) rotate(-60)">growth</text>
<text transform="translate(793.9,2728) rotate(-60)">rhythmic process</text>
<text transform="translate(815.5,2728) rotate(-60)">presynaptic process involved in chemical synaptic transmission</text>
</g>
<g fill="#b2dfc2">
<rect x="832.8" y="2428.4" width="13.2" height="264.2"/>
<rect x="862.2" y="2428.4" width="13.2" height="264.2"/>
<rect x="891.6" y="2492.4" width="13.2" height="200.2"/>
<rect x="921" y="2506.3" width="13.2" height="186.3"/>
<rect x="950.5" y="2496" width="13.2" height="196.6"/>
<rect x="979.9" y="2625.7" width="13.2" height="66.9"/>
<rect x="1009.3" y="2622.2" width="13.2" height="70.4"/>
<rect x="1038.8" y="2675.8" width="13.2" height="16.8"/>
<rect x="1068.2" y="2674.7" width="13.2" height="17.9"/>
<rect x="1097.6" y="2681.2" width="13.2" height="11.4"/>
<rect x="1127.1" y="2681.2" width="13.2" height="11.4"/>
<rect x="1156.5" y="2681.2" width="13.2" height="11.4"/>
<rect x="1185.9" y="2680.4" width="13.2" height="12.2"/>
<rect x="1215.3" y="2674" width="13.2" height="18.6"/>
<rect x="1244.8" y="2689" width="13.2" height="3.6"/>
<rect x="1274.2" y="2684" width="13.2" height="8.6"/>
</g><g fill="#00a956">
<rect x="846" y="2502.1" width="13.2" height="190.5"/>
<rect x="875.4" y="2502.1" width="13.2" height="190.5"/>
<rect x="904.9" y="2540.7" width="13.2" height="151.9"/>
<rect x="934.3" y="2549.6" width="13.2" height="143"/>
<rect x="963.7" y="2551.4" width="13.2" height="141.2"/>
<rect x="993.1" y="2630.8" width="13.2" height="61.8"/>
<rect x="1022.6" y="2633.6" width="13.2" height="59"/>
<rect x="1052" y="2671.2" width="13.2" height="21.4"/>
<rect x="1081.4" y="2686.5" width="13.2" height="6.1"/>
<rect x="1110.9" y="2686.5" width="13.2" height="6.1"/>
<rect x="1140.3" y="2686.5" width="13.2" height="6.1"/>
<rect x="1169.7" y="2688.3" width="13.2" height="4.3"/>
<rect x="1199.2" y="2690.8" width="13.2" height="1.8"/>
<rect x="1228.6" y="2690.8" width="13.2" height="1.8"/>
<rect x="1258" y="2691.5" width="13.2" height="1.1"/>
<rect x="1287.5" y="2691.5" width="13.2" height="1.1"/>
</g>
<rect x="828.7" y="2369.8" width="476.5" height="45.4" fill="#d9d9d9" stroke="#333" stroke-width="1.8"/>
<rect x="828.7" y="2415.2" width="476.5" height="289.4" fill="none" stroke="#333" stroke-width="1.8"/>
<text x="1067" y="2401.2" font-size="24.3" text-anchor="middle" fill="#1a1a1a">cellular component</text>
<path d="M846,2704.6V2713.4M875.4,2704.6V2713.4M904.9,2704.6V2713.4M934.3,2704.6V2713.4M963.7,2704.6V2713.4M993.1,2704.6V2713.4M1022.6,2704.6V2713.4M1052,2704.6V2713.4M1081.4,2704.6V2713.4M1110.9,2704.6V2713.4M1140.3,2704.6V2713.4M1169.7,2704.6V2713.4M1199.2,2704.6V2713.4M1228.6,2704.6V2713.4M1258,2704.6V2713.4M1287.5,2704.6V2713.4" stroke="#333" stroke-width="2.2" fill="none"/>
<g font-size="24.25" fill="#555" text-anchor="end">
<text transform="translate(860,2728) rotate(-60)">cell</text>
<text transform="translate(889.4,2728) rotate(-60)">cell part</text>
<text transform="translate(918.9,2728) rotate(-60)">membrane</text>
<text transform="translate(948.3,2728) rotate(-60)">membrane part</text>
<text transform="translate(977.7,2728) rotate(-60)">organelle</text>
<text transform="translate(1007.1,2728) rotate(-60)">organelle part</text>
<text transform="translate(1036.6,2728) rotate(-60)">macromolecular complex</text>
<text transform="translate(1066,2728) rotate(-60)">membrane-enclosed lumen</text>
<text transform="translate(1095.4,2728) rotate(-60)">extracellular region</text>
<text transform="translate(1124.9,2728) rotate(-60)">other organism</text>
<text transform="translate(1154.3,2728) rotate(-60)">other organism part</text>
<text transform="translate(1183.7,2728) rotate(-60)">extracellular region part</text>
<text transform="translate(1213.2,2728) rotate(-60)">synapse</text>
<text transform="translate(1242.6,2728) rotate(-60)">supramolecular complex</text>
<text transform="translate(1272,2728) rotate(-60)">synapse part</text>
<text transform="translate(1301.5,2728) rotate(-60)">cell junction</text>
</g>
<g fill="#ffd6b5">
<rect x="1325.6" y="2590" width="15.1" height="102.6"/>
<rect x="1359.2" y="2428.4" width="15.1" height="264.2"/>
<rect x="1392.8" y="2661.5" width="15.1" height="31.1"/>
<rect x="1426.5" y="2672.2" width="15.1" height="20.4"/>
<rect x="1460.1" y="2667.9" width="15.1" height="24.7"/>
<rect x="1493.8" y="2667.9" width="15.1" height="24.7"/>
<rect x="1527.4" y="2672.2" width="15.1" height="20.4"/>
<rect x="1561" y="2645.8" width="15.1" height="46.8"/>
<rect x="1594.7" y="2688" width="15.1" height="4.6"/>
<rect x="1628.3" y="2690.8" width="15.1" height="1.8"/>
<rect x="1662" y="2691.5" width="15.1" height="1.1"/>
<rect x="1695.6" y="2691.9" width="15.1" height="0.7"/>
<rect x="1729.2" y="2690.8" width="15.1" height="1.8"/>
<rect x="1762.9" y="2691.9" width="15.1" height="0.7"/>
</g><g fill="#ff9234">
<rect x="1340.7" y="2550.3" width="15.1" height="142.3"/>
<rect x="1374.3" y="2551.4" width="15.1" height="141.2"/>
<rect x="1408" y="2667.9" width="15.1" height="24.7"/>
<rect x="1441.6" y="2680.1" width="15.1" height="12.5"/>
<rect x="1475.3" y="2685.4" width="15.1" height="7.1"/>
<rect x="1508.9" y="2686.5" width="15.1" height="6.1"/>
<rect x="1542.5" y="2686.5" width="15.1" height="6.1"/>
<rect x="1576.2" y="2687.2" width="15.1" height="5.4"/>
<rect x="1609.8" y="2689.7" width="15.1" height="2.9"/>
<rect x="1643.5" y="2689.7" width="15.1" height="2.9"/>
<rect x="1677.1" y="2690.1" width="15.1" height="2.5"/>
<rect x="1744.4" y="2691.9" width="15.1" height="0.7"/>
</g>
<rect x="1321" y="2369.8" width="476.6" height="45.4" fill="#d9d9d9" stroke="#333" stroke-width="1.8"/>
<rect x="1321" y="2415.2" width="476.6" height="289.4" fill="none" stroke="#333" stroke-width="1.8"/>
<text x="1559.3" y="2401.2" font-size="24.3" text-anchor="middle" fill="#1a1a1a">molecular function</text>
<path d="M1340.7,2704.6V2713.4M1374.3,2704.6V2713.4M1408,2704.6V2713.4M1441.6,2704.6V2713.4M1475.3,2704.6V2713.4M1508.9,2704.6V2713.4M1542.5,2704.6V2713.4M1576.2,2704.6V2713.4M1609.8,2704.6V2713.4M1643.5,2704.6V2713.4M1677.1,2704.6V2713.4M1710.7,2704.6V2713.4M1744.4,2704.6V2713.4M1778,2704.6V2713.4" stroke="#333" stroke-width="2.2" fill="none"/>
<g font-size="24.25" fill="#555" text-anchor="end">
<text transform="translate(1354.7,2728) rotate(-60)">catalytic activity</text>
<text transform="translate(1388.3,2728) rotate(-60)">binding</text>
<text transform="translate(1422,2728) rotate(-60)">transporter activity</text>
<text transform="translate(1455.6,2728) rotate(-60)">structural molecule activity</text>
<text transform="translate(1489.3,2728) rotate(-60)">signal transducer activity</text>
<text transform="translate(1522.9,2728) rotate(-60)">molecular transducer activity</text>
<text transform="translate(1556.5,2728) rotate(-60)">molecular function regulator</text>
<text transform="translate(1590.2,2728) rotate(-60)">nucleic acid binding transcription factor activity</text>
<text transform="translate(1623.8,2728) rotate(-60)">transcription factor activity, protein binding</text>
<text transform="translate(1657.5,2728) rotate(-60)">antioxidant activity</text>
<text transform="translate(1691.1,2728) rotate(-60)">electron carrier activity</text>
<text transform="translate(1724.7,2728) rotate(-60)">protein tag</text>
<text transform="translate(1758.4,2728) rotate(-60)">translation regulator activity</text>
<text transform="translate(1792,2728) rotate(-60)">chemorepellent activity</text>
</g>
<path d="M328.2,2692.6H336.5M328.2,2621.1H336.5M328.2,2549.6H336.5M328.2,2478.1H336.5" stroke="#333" stroke-width="2.2" fill="none"/>
<g font-size="24" fill="#4d4d4d" text-anchor="end">
<text x="322" y="2701.3">0</text>
<text x="322" y="2629.8">200</text>
<text x="322" y="2558.3">400</text>
<text x="322" y="2486.8">600</text>
</g>
<text transform="translate(268,2560.4) rotate(-90)" font-size="29.8" text-anchor="middle" fill="#000">Num of Genes</text>
<text x="1067" y="3348.8" font-size="30.2" text-anchor="middle" fill="#1a1a1a">GO_term</text>
<text transform="translate(165.84,3398.3) scale(0.94,1)" font-size="95.78" fill="#000">E</text>
<g class="dj" font-size="20.95" fill="#222" stroke="#222" stroke-width="0.3">
<g fill="#ff7799">
<rect x="771.1" y="3426.3" width="320.9" height="22.3"/>
<rect x="771.1" y="3454.6" width="256.7" height="22.3"/>
<rect x="771.1" y="3482.9" width="256.7" height="22.3"/>
<rect x="771.1" y="3511.2" width="201.7" height="22.3"/>
<rect x="771.1" y="3539.5" width="201.7" height="22.3"/>
<rect x="771.1" y="3567.8" width="137.5" height="22.3"/>
</g>
<g text-anchor="end" font-size="20.75">
<text x="748.8" y="3444">Endocytosis</text>
<text x="748.8" y="3472.3">Lysosome</text>
<text x="748.8" y="3500.6">Phagosome</text>
<text x="748.8" y="3528.9">Autophagy - animal</text>
<text x="748.8" y="3557.2">Peroxisome</text>
<text x="748.8" y="3585.5">Mitophagy - animal</text>
</g>
<text x="1104.3" y="3444" font-size="20.6">35 (4.59%)</text>
<text x="1040.1" y="3472.3" font-size="20.6">28 (3.67%)</text>
<text x="1040.1" y="3500.6" font-size="20.6">28 (3.67%)</text>
<text x="985.1" y="3528.9" font-size="20.6">22 (2.89%)</text>
<text x="985.1" y="3557.2" font-size="20.6">22 (2.89%)</text>
<text x="920.9" y="3585.5" font-size="20.6">15 (1.97%)</text>
<path d="M1480.8,3427.3V3594.6" stroke="#ffb3c6" stroke-width="3" fill="none"/>
<text x="1490.8" y="3518.2">Cellular Processes</text>
<g fill="#ffaa00">
<rect x="771.1" y="3602.9" width="293.4" height="22.3"/>
<rect x="771.1" y="3631.2" width="256.7" height="22.3"/>
<rect x="771.1" y="3659.6" width="247.6" height="22.3"/>
<rect x="771.1" y="3687.9" width="238.4" height="22.3"/>
<rect x="771.1" y="3716.2" width="210.9" height="22.3"/>
<rect x="771.1" y="3744.6" width="183.4" height="22.3"/>
<rect x="771.1" y="3772.9" width="128.4" height="22.3"/>
<rect x="771.1" y="3801.2" width="119.2" height="22.3"/>
<rect x="771.1" y="3829.5" width="100.9" height="22.3"/>
<rect x="771.1" y="3857.9" width="91.7" height="22.3"/>
<rect x="771.1" y="3886.2" width="82.5" height="22.3"/>
</g>
<g text-anchor="end" font-size="20.75">
<text x="748.8" y="3620.6">MAPK signaling pathway</text>
<text x="748.8" y="3648.9">Neuroactive ligand-receptor interaction</text>
<text x="748.8" y="3677.3">Wnt signaling pathway</text>
<text x="748.8" y="3705.6">mTOR signaling pathway</text>
<text x="748.8" y="3733.9">Calcium signaling pathway</text>
<text x="748.8" y="3762.2">FoxO signaling pathway</text>
<text x="748.8" y="3790.6">ErbB signaling pathway</text>
<text x="748.8" y="3818.9">TGF-beta signaling pathway</text>
<text x="748.8" y="3847.2">Hippo signaling pathway - multiple species</text>
<text x="748.8" y="3875.6">Phosphatidylinositol signaling system</text>
<text x="748.8" y="3903.9">ECM-receptor interaction</text>
</g>
<text x="1076.8" y="3620.6" font-size="20.6">32 (4.20%)</text>
<text x="1040.1" y="3648.9" font-size="20.6">28 (3.67%)</text>
<text x="1031" y="3677.3" font-size="20.6">27 (3.54%)</text>
<text x="1021.8" y="3705.6" font-size="20.6">26 (3.41%)</text>
<text x="994.3" y="3733.9" font-size="20.6">23 (3.02%)</text>
<text x="966.8" y="3762.2" font-size="20.6">20 (2.62%)</text>
<text x="911.8" y="3790.6" font-size="20.6">14 (1.84%)</text>
<text x="902.6" y="3818.9" font-size="20.6">13 (1.71%)</text>
<text x="884.3" y="3847.2" font-size="20.6">11 (1.44%)</text>
<text x="875.1" y="3875.6" font-size="20.6">10 (1.31%)</text>
<text x="865.9" y="3903.9" font-size="20.6">9 (1.18%)</text>
<path d="M1480.8,3603.9V3913" stroke="#ffd57a" stroke-width="3" fill="none"/>
<text x="1490.8" y="3765.7">Environmental Information Processing</text>
<g fill="#00b67a">
<rect x="771.1" y="3921.5" width="330.1" height="22.3"/>
<rect x="771.1" y="3949.8" width="293.4" height="22.3"/>
<rect x="771.1" y="3978.1" width="238.4" height="22.3"/>
<rect x="771.1" y="4006.4" width="220.1" height="22.3"/>
<rect x="771.1" y="4034.7" width="192.5" height="22.3"/>
<rect x="771.1" y="4063" width="165" height="22.3"/>
<rect x="771.1" y="4091.3" width="155.9" height="22.3"/>
<rect x="771.1" y="4119.6" width="119.2" height="22.3"/>
<rect x="771.1" y="4147.9" width="82.5" height="22.3"/>
</g>
<g text-anchor="end" font-size="20.75">
<text x="748.8" y="3939.2">Ribosome</text>
<text x="748.8" y="3967.5">Protein processing in endoplasmic reticulum</text>
<text x="748.8" y="3995.8">Ubiquitin mediated proteolysis</text>
<text x="748.8" y="4024.1">Spliceosome</text>
<text x="748.8" y="4052.4">mRNA surveillance pathway</text>
<text x="748.8" y="4080.7">RNA transport</text>
<text x="748.8" y="4109">RNA degradation</text>
<text x="748.8" y="4137.3">Ribosome biogenesis in eukaryotes</text>
<text x="748.8" y="4165.6">Proteasome</text>
</g>
<text x="1113.5" y="3939.2" font-size="20.6">36 (4.72%)</text>
<text x="1076.8" y="3967.5" font-size="20.6">32 (4.20%)</text>
<text x="1021.8" y="3995.8" font-size="20.6">26 (3.41%)</text>
<text x="1003.5" y="4024.1" font-size="20.6">24 (3.15%)</text>
<text x="975.9" y="4052.4" font-size="20.6">21 (2.76%)</text>
<text x="948.4" y="4080.7" font-size="20.6">18 (2.36%)</text>
<text x="939.3" y="4109" font-size="20.6">17 (2.23%)</text>
<text x="902.6" y="4137.3" font-size="20.6">13 (1.71%)</text>
<text x="865.9" y="4165.6" font-size="20.6">9 (1.18%)</text>
<path d="M1480.8,3922.5V4174.7" stroke="#66d9b3" stroke-width="3" fill="none"/>
<text x="1490.8" y="4055.8">Genetic Information Processing</text>
<g fill="#6fb500">
<rect x="771.1" y="4183.1" width="256.7" height="22.3"/>
<rect x="771.1" y="4211.5" width="238.4" height="22.3"/>
<rect x="771.1" y="4239.9" width="220.1" height="22.3"/>
<rect x="771.1" y="4268.3" width="210.9" height="22.3"/>
<rect x="771.1" y="4296.7" width="192.5" height="22.3"/>
<rect x="771.1" y="4325.1" width="192.5" height="22.3"/>
<rect x="771.1" y="4353.5" width="165" height="22.3"/>
<rect x="771.1" y="4381.9" width="155.9" height="22.3"/>
<rect x="771.1" y="4410.3" width="146.7" height="22.3"/>
<rect x="771.1" y="4438.7" width="128.4" height="22.3"/>
<rect x="771.1" y="4467.1" width="119.2" height="22.3"/>
<rect x="771.1" y="4495.5" width="110" height="22.3"/>
<rect x="771.1" y="4523.9" width="100.9" height="22.3"/>
<rect x="771.1" y="4552.3" width="100.9" height="22.3"/>
<rect x="771.1" y="4580.7" width="100.9" height="22.3"/>
<rect x="771.1" y="4609.1" width="91.7" height="22.3"/>
<rect x="771.1" y="4637.5" width="82.5" height="22.3"/>
<rect x="771.1" y="4665.9" width="82.5" height="22.3"/>
<rect x="771.1" y="4694.3" width="82.5" height="22.3"/>
<rect x="771.1" y="4722.7" width="82.5" height="22.3"/>
<rect x="771.1" y="4751.1" width="82.5" height="22.3"/>
</g>
<g text-anchor="end" font-size="20.75">
<text x="748.8" y="4200.8">Drug metabolism - cytochrome P450</text>
<text x="748.8" y="4229.2">Drug metabolism - other enzymes</text>
<text x="748.8" y="4257.6">Oxidative phosphorylation</text>
<text x="748.8" y="4286">Metabolism of xenobiotics by cytochrome P450</text>
<text x="748.8" y="4314.4">Carbon metabolism</text>
<text x="748.8" y="4342.8">Fatty acid metabolism</text>
<text x="748.8" y="4371.2">Glutathione metabolism</text>
<text x="748.8" y="4399.6">Amino sugar and nucleotide sugar metabolism</text>
<text x="748.8" y="4428">Lysine degradation</text>
<text x="748.8" y="4456.4">Retinol metabolism</text>
<text x="748.8" y="4484.8">Biosynthesis of amino acids</text>
<text x="748.8" y="4513.2">Sphingolipid metabolism</text>
<text x="748.8" y="4541.6">Fatty acid degradation</text>
<text x="748.8" y="4570">Purine metabolism</text>
<text x="748.8" y="4598.4">Valine, leucine and isoleucine degradation</text>
<text x="748.8" y="4626.8">Porphyrin and chlorophyll metabolism</text>
<text x="748.8" y="4655.2">Ascorbate and aldarate metabolism</text>
<text x="748.8" y="4683.6">Cysteine and methionine metabolism</text>
<text x="748.8" y="4712">Fatty acid elongation</text>
<text x="748.8" y="4740.4">Pentose and glucuronate interconversions</text>
<text x="748.8" y="4768.8">Propanoate metabolism</text>
</g>
<text x="1040.1" y="4200.8" font-size="20.6">28 (3.67%)</text>
<text x="1021.8" y="4229.2" font-size="20.6">26 (3.41%)</text>
<text x="1003.5" y="4257.6" font-size="20.6">24 (3.15%)</text>
<text x="994.3" y="4286" font-size="20.6">23 (3.02%)</text>
<text x="975.9" y="4314.4" font-size="20.6">21 (2.76%)</text>
<text x="975.9" y="4342.8" font-size="20.6">21 (2.76%)</text>
<text x="948.4" y="4371.2" font-size="20.6">18 (2.36%)</text>
<text x="939.3" y="4399.6" font-size="20.6">17 (2.23%)</text>
<text x="930.1" y="4428" font-size="20.6">16 (2.10%)</text>
<text x="911.8" y="4456.4" font-size="20.6">14 (1.84%)</text>
<text x="902.6" y="4484.8" font-size="20.6">13 (1.71%)</text>
<text x="893.4" y="4513.2" font-size="20.6">12 (1.57%)</text>
<text x="884.3" y="4541.6" font-size="20.6">11 (1.44%)</text>
<text x="884.3" y="4570" font-size="20.6">11 (1.44%)</text>
<text x="884.3" y="4598.4" font-size="20.6">11 (1.44%)</text>
<text x="875.1" y="4626.8" font-size="20.6">10 (1.31%)</text>
<text x="865.9" y="4655.2" font-size="20.6">9 (1.18%)</text>
<text x="865.9" y="4683.6" font-size="20.6">9 (1.18%)</text>
<text x="865.9" y="4712" font-size="20.6">9 (1.18%)</text>
<text x="865.9" y="4740.4" font-size="20.6">9 (1.18%)</text>
<text x="865.9" y="4768.8" font-size="20.6">9 (1.18%)</text>
<path d="M1480.8,4184.1V4778" stroke="#aed666" stroke-width="3" fill="none"/>
<text x="1490.8" y="4488.2">Metabolism</text>
<g fill="#00bcd4">
<rect x="771.1" y="4787.1" width="357.6" height="22.3"/>
<rect x="771.1" y="4815.4" width="265.9" height="22.3"/>
<rect x="771.1" y="4843.6" width="128.4" height="22.3"/>
</g>
<g text-anchor="end" font-size="20.75">
<text x="748.8" y="4804.8">Longevity regulating pathway - worm</text>
<text x="748.8" y="4833.1">Axon regeneration</text>
<text x="748.8" y="4861.3">Longevity regulating pathway - multiple species</text>
</g>
<text x="1141" y="4804.8" font-size="20.6">39 (5.12%)</text>
<text x="1049.3" y="4833.1" font-size="20.6">29 (3.81%)</text>
<text x="911.8" y="4861.3" font-size="20.6">14 (1.84%)</text>
<path d="M1480.8,4788.1V4870.4" stroke="#40d9f0" stroke-width="3" fill="none"/>
<text x="1490.8" y="4836.4">Organismal Systems</text>
<text x="772.4" y="4899.8" text-anchor="middle">0%</text>
<text x="1469.8" y="4899.8" text-anchor="middle">10%</text>
<text x="1121.4" y="4921.3" text-anchor="middle">Annotated Genes</text>
</g>
<path d="M771.1,4876.5V4880H1469.6V4876.5" stroke="#444" stroke-width="3" fill="none"/>
</svg>
</body></html>
